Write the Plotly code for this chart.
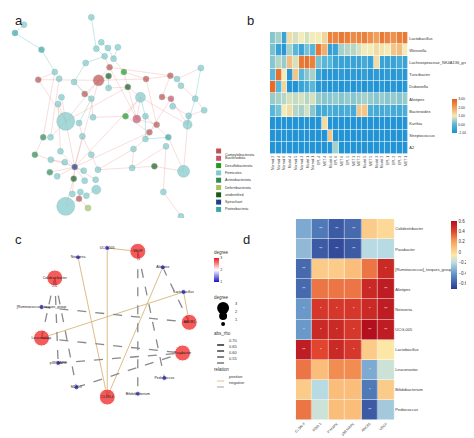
import plotly.graph_objects as go

W, H = 474, 438

# ---------- panel a: co-occurrence network ----------
phyla = ["Campylobacterota", "Bacteroidota", "Desulfobacterota", "Firmicutes",
         "Actinobacteriota", "Deferribacterota", "unidentified", "Spirochaet", "Proteobacteria"]
phylum_colors = ["#c0504d", "#c9516a", "#1f9a1f", "#7fcaca", "#2f8a4f",
                 "#a9c15c", "#1b5a1b", "#1e3f8c", "#3aa6a6"]

a_x = [42, 15, 95, 245, 275, 260, 295, 325, 285, 312, 228, 300, 343, 297, 267, 135, 148, 85, 193, 297,
       355, 410, 483, 503, 575, 515, 393, 458, 485, 558, 490, 585, 538, 535, 155, 225, 245, 145, 168, 208,
       250, 348, 382, 408, 442, 420, 477, 408, 470, 100, 122, 218, 75, 152, 123, 165, 245, 372, 195, 222,
       265, 120, 142, 435, 368, 523, 258, 225, 192, 260, 212, 188, 230, 208, 168, 235, 462, 515]
a_y = [50, 75, 125, 28, 103, 122, 120, 118, 145, 152, 165, 178, 192, 204, 217, 192, 212, 215, 222, 240,
       237, 213, 203, 213, 180, 233, 268, 267, 272, 272, 295, 307, 323, 350, 268, 258, 272, 288, 340, 345,
       328, 325, 333, 325, 350, 373, 388, 393, 415, 388, 388, 385, 440, 430, 455, 463, 440, 423, 477, 488,
       485, 493, 505, 475, 480, 490, 515, 518, 512, 545, 552, 558, 563, 572, 595, 600, 552, 625]
a_phylum = [3, 8, 8, 3, 3, 3, 3, 3, 3, 3, 3, 0, 2, 6, 0, 3, 3, 0, 3, 3,
            6, 0, 0, 3, 3, 3, 3, 0, 1, 3, 3, 3, 3, 3, 3, 0, 3, 3, 3, 3,
            3, 2, 1, 3, 0, 0, 8, 3, 3, 4, 3, 3, 4, 3, 3, 3, 3, 3, 7, 3,
            3, 4, 3, 6, 3, 3, 3, 3, 6, 3, 3, 3, 3, 0, 3, 5, 3, 3]
a_size = [6] * len(a_x)
for i, s in {14: 11, 26: 10, 33: 9, 42: 8, 65: 12, 69: 9, 38: 18, 74: 18}.items():
    a_size[i] = s
a_pos_edges = [(11, 14), (14, 13), (14, 17), (14, 21), (14, 35), (12, 21), (12, 20), (20, 26), (21, 22),
               (22, 23), (22, 27), (27, 28), (28, 30), (25, 29), (29, 31), (31, 32), (32, 33), (33, 28),
               (26, 42), (42, 44), (44, 45), (45, 47), (47, 57), (57, 64), (64, 48), (48, 76), (76, 77),
               (38, 50), (38, 14), (38, 58), (49, 52), (52, 58), (58, 68), (58, 61), (58, 71), (58, 53),
               (54, 55), (55, 58), (58, 66), (68, 74), (73, 74), (69, 72), (70, 73), (35, 36), (36, 40),
               (40, 41), (41, 26), (42, 11), (17, 38), (15, 49), (16, 50), (37, 38), (34, 38), (39, 51),
               (51, 58), (56, 60), (60, 63), (63, 65), (65, 33), (46, 65), (43, 46), (19, 20), (18, 35),
               (26, 33), (30, 32), (44, 21), (23, 25), (24, 23), (12, 9), (11, 8), (20, 42), (41, 45),
               (57, 60), (58, 45), (14, 58), (37, 53), (58, 26), (62, 58), (67, 58), (75, 73), (59, 58),
               (56, 51), (28, 45), (11, 22), (17, 15), (38, 20)]
a_neg_edges = [(0, 1), (1, 2), (2, 15), (3, 5), (4, 6), (5, 8), (6, 9), (7, 9), (8, 10), (10, 18),
               (18, 36), (36, 39), (24, 29), (29, 33), (33, 32), (26, 43), (43, 47), (46, 47), (19, 13)]

# ---------- panel b: heatmap ----------
b_rows = ["Lactobacillus", "Weissella", "Lachnospiraceae_NK4A136_group", "Turicibacter", "Dubosiella",
          "Alistipes", "Bacteroides", "Kurthia", "Streptococcus", "A2"]
b_cols = ["Normal 2", "Normal 4", "Normal 6", "Model 4", "Normal 5", "Normal 3", "Model 1", "Normal 1",
          "EPL 4", "MET 4", "Model 6", "EPL 6", "MET 6", "EPL 5", "MET 3", "MET 2", "Model 5", "MET 5",
          "Model 3", "Model 2", "EPL 1", "EPL 2", "EPL 3", "MET 1"]
b_vals = [
    [0.3, 0.5, -0.5, 1.2, 0.8, 1.0, 0.8, 1.0, 1.0, 1.3, 2.5, 2.4, 2.6, 2.5, 2.3, 2.4, 2.5, 2.2, 2.0, 2.6, 2.4, 2.2, 2.5, 2.6],
    [0.2, -0.5, -0.8, 0.5, 0.0, -0.5, 0.2, 0.0, 2.6, 1.8, -0.6, -0.5, 0.5, 0.6, 0.6, 0.8, 1.0, 1.0, 1.2, 1.1, 1.0, 1.5, 1.6, 1.0],
    [0.3, 0.6, 0.4, 1.6, 0.8, 2.6, 2.7, 2.5, 0.2, 0.0, 0.0, -0.5, -0.5, -0.5, -0.5, -0.5, -0.3, -0.5, 1.2, -0.5, -0.5, -0.5, -0.3, -0.5],
    [0.0, 2.7, 1.0, -0.8, 1.5, 0.0, 0.3, 0.5, -0.5, -0.8, -0.8, -0.8, -0.7, -0.8, -0.7, -0.8, -0.6, -0.8, -0.7, -0.8, -0.7, -0.8, -0.7, -0.8],
    [2.8, 0.0, 1.3, -0.9, -0.9, -0.5, -0.3, 0.0, -0.8, -0.8, -0.9, -0.8, -0.9, -0.8, -0.9, -0.8, -0.9, -0.8, -0.9, -0.8, -0.9, -0.8, -0.9, -0.8],
    [0.4, 0.5, 0.6, 0.8, 0.7, 0.8, 0.6, 0.8, 0.4, 0.3, 0.3, 0.4, 0.3, 0.4, 0.3, 0.4, 0.5, 0.4, 0.3, 0.4, 0.3, 0.4, 0.3, 0.4],
    [0.0, 0.2, 1.0, 1.2, 0.6, 0.5, 0.8, 0.3, -0.3, -0.3, -0.2, -0.3, -0.3, -0.2, -0.3, 1.5, 1.5, -0.2, -0.3, -0.3, -0.2, -0.3, -0.3, -0.2],
    [-0.9, -0.9, -0.9, -0.9, -0.9, -0.9, -0.9, -0.9, -0.9, 1.2, -0.9, -0.9, -0.9, -0.9, -0.9, -0.9, -0.9, -0.9, -0.9, -0.9, -0.9, -0.9, -0.9, -0.9],
    [-0.9, -0.9, -0.9, -0.9, -0.9, -0.9, -0.9, -0.9, -0.9, -0.9, 1.5, -0.9, -0.9, -0.9, -0.9, -0.9, -0.9, -0.9, -0.9, -0.9, -0.9, -0.9, -0.9, -0.9],
    [-0.9, -0.9, -0.9, -0.9, -0.9, -0.9, -0.9, -0.9, -0.9, -0.9, -0.9, 0.5, -0.9, -0.9, -0.9, -0.9, -0.9, -0.9, -0.9, -0.9, -0.9, -0.9, -0.9, -0.9],
]

# ---------- panel c: correlation network ----------
c_names = ["UCG-005", "Neisseria", "VEGF", "Alistipes", "Lactobacillus", "ABCB1", "Parabacter",
           "Pediococcus", "Bifidobacterium", "CLDN-4", "MDR-1", "p38 MAPK", "Leuconostoc",
           "[Ruminococcus]_torques_group", "Colidextribacter"]
c_x = [293, 205, 385, 460, 523, 540, 520, 465, 385, 293, 200, 145, 95, 95, 135]
c_y = [90, 118, 100, 148, 222, 313, 405, 480, 527, 537, 508, 435, 360, 267, 180]
c_degree = [1, 1, 3, 1, 1, 3, 3, 1, 1, 3, 1, 1, 3, 1, 3]
c_edges = [(0, 2, "positive"), (0, 9, "positive"), (1, 9, "positive"), (3, 9, "positive"),
           (3, 5, "negative"), (4, 5, "positive"), (4, 12, "positive"), (2, 7, "negative"),
           (2, 8, "negative"), (14, 12, "negative"), (14, 11, "negative"), (14, 10, "negative"),
           (13, 5, "negative"), (12, 6, "negative"), (11, 6, "negative"), (10, 6, "negative")]

# ---------- panel d: correlation heatmap ----------
d_rows = ["Colidextribacter", "Parabacter", "[Ruminococcus]_torques_group", "Alistipes", "Neisseria",
          "UCG-005", "Lactobacillus", "Leuconostoc", "Bifidobacterium", "Pediococcus"]
d_cols = ["CLDN-4", "MDR-1", "P-MAPK", "p38 MAPK", "ABCB1", "VEGF"]
d_vals = [
    [-0.35, -0.5, -0.6, -0.55, 0.05, 0.0],
    [-0.3, -0.6, -0.65, -0.6, -0.2, -0.2],
    [-0.55, 0.05, 0.05, 0.1, 0.3, 0.5],
    [-0.55, 0.3, 0.3, 0.3, 0.5, 0.55],
    [-0.4, 0.45, 0.45, 0.45, 0.5, 0.55],
    [-0.4, 0.5, 0.5, 0.45, 0.6, 0.55],
    [0.55, 0.4, 0.5, 0.45, 0.05, -0.05],
    [0.3, 0.1, 0.25, 0.25, -0.35, -0.15],
    [0.05, -0.2, 0.1, 0.1, -0.5, 0.05],
    [0.3, -0.15, 0.1, 0.1, -0.6, -0.25],
]
d_stars = [
    ["", "**", "**", "**", "", ""],
    ["", "**", "**", "**", "", ""],
    ["**", "", "", "", "", "*"],
    ["**", "", "", "", "*", "**"],
    ["*", "*", "*", "*", "*", "**"],
    ["*", "*", "*", "*", "**", "**"],
    ["**", "*", "*", "*", "", ""],
    ["", "", "", "", "*", ""],
    ["", "", "", "", "*", ""],
    ["", "", "", "", "**", ""],
]


def px_dom(x0, x1):
    return [x0 / W, x1 / W]


def py_dom(y0, y1):
    return [1 - y1 / H, 1 - y0 / H]


fig = go.Figure()
FONT = "Liberation Sans"

# panel a edges + nodes
for edges, col in [(a_pos_edges, "rgba(240,150,150,0.55)"), (a_neg_edges, "rgba(120,200,200,0.7)")]:
    ex, ey = [], []
    for i, j in edges:
        ex += [a_x[i], a_x[j], None]
        ey += [a_y[i], a_y[j], None]
    fig.add_trace(go.Scatter(x=ex, y=ey, mode="lines", line=dict(color=col, width=0.6),
                             hoverinfo="skip", showlegend=False, xaxis="x", yaxis="y"))
fig.add_trace(go.Scatter(x=a_x, y=a_y, mode="markers", showlegend=False, xaxis="x", yaxis="y",
                         marker=dict(size=a_size, color=[phylum_colors[p] for p in a_phylum],
                                     line=dict(color="#5a9a9a", width=0.4))))

# panel b heatmap
b_scale = [[0, "#1c8fd3"], [0.25, "#58b6d8"], [0.5, "#f3ebb8"], [0.75, "#f0a05a"], [1, "#e25f1c"]]
fig.add_trace(go.Heatmap(z=b_vals, x=b_cols, y=b_rows, xaxis="x2", yaxis="y2", zmin=-1, zmax=3,
                         colorscale=b_scale, xgap=0.6, ygap=0.6,
                         colorbar=dict(x=444 / W, xanchor="left", xpad=0, ypad=0,
                                       y=1 - 108 / H, len=34 / H,
                                       thickness=5, outlinewidth=0, tickvals=[-1, 0, 1, 2, 3],
                                       ticktext=["-1.00", "0.00", "1.00", "2.00", "3.00"],
                                       tickfont=dict(size=3.5, family=FONT))))

# panel c edges + nodes
for rel, col, dash, wd in [("positive", "#d8b47a", "solid", 0.9), ("negative", "#8a8a8a", "dash", 1.3)]:
    ex, ey = [], []
    for i, j, r in c_edges:
        if r == rel:
            ex += [c_x[i], c_x[j], None]
            ey += [c_y[i], c_y[j], None]
    fig.add_trace(go.Scatter(x=ex, y=ey, mode="lines", line=dict(color=col, width=wd, dash=dash),
                             hoverinfo="skip", showlegend=False, xaxis="x3", yaxis="y3"))
fig.add_trace(go.Scatter(x=c_x, y=c_y, mode="markers+text", text=c_names, showlegend=False,
                         textfont=dict(size=3.5, family=FONT, color="#222"),
                         xaxis="x3", yaxis="y3",
                         marker=dict(size=[5 + 5.5 * (d - 1) for d in c_degree], color=c_degree,
                                     cmin=1, cmax=3,
                                     colorscale=[[0, "#1a10c8"], [0.5, "#ffffff"], [1, "#f01818"]],
                                     colorbar=dict(x=205 / W, xanchor="left", xpad=0, ypad=0,
                                                   y=1 - 262 / H,
                                                   len=24 / H, thickness=5, outlinewidth=0,
                                                   tickvals=[1, 2, 3],
                                                   tickfont=dict(size=3.5, family=FONT)))))

# panel d heatmap
d_scale = [[0, "#2b3a91"], [0.2, "#5b8cc4"], [0.4, "#bfe0e6"], [0.5, "#fde7a6"],
           [0.7, "#f7a05a"], [0.85, "#e0432d"], [1, "#b2101f"]]
fig.add_trace(go.Heatmap(z=d_vals, x=d_cols, y=d_rows, text=d_stars, texttemplate="%{text}",
                         textfont=dict(size=4, color="white"), xaxis="x4", yaxis="y4",
                         zmin=-0.7, zmax=0.6, colorscale=d_scale, xgap=0.5, ygap=0.5,
                         colorbar=dict(x=443 / W, xanchor="left", xpad=0, ypad=0,
                                       y=1 - 213 / H, yanchor="top",
                                       len=68 / H, thickness=6, outlinewidth=0,
                                       tickvals=[-0.6, -0.4, -0.2, 0, 0.2, 0.4, 0.6],
                                       ticktext=["−0.6", "−0.4", "−0.2", "0", "0.2", "0.4", "0.6"],
                                       tickfont=dict(size=4.5, family=FONT))))

hidden = dict(visible=False, showgrid=False, zeroline=False)
fig.update_layout(
    width=W, height=H, margin=dict(l=0, r=0, t=0, b=0),
    paper_bgcolor="white", plot_bgcolor="white",
    font=dict(family=FONT, size=5, color="#333"),
    xaxis=dict(domain=px_dom(0, 240), range=[0, 720], **hidden),
    yaxis=dict(domain=py_dom(0, 215), range=[645, 0], **hidden),
    xaxis2=dict(domain=px_dom(261, 400), showgrid=False, tickangle=-90, tickfont=dict(size=3.5),
                ticks="", anchor="y2"),
    yaxis2=dict(domain=py_dom(24, 146), autorange="reversed", side="right", showgrid=False,
                tickfont=dict(size=4), ticks="", anchor="x2"),
    xaxis3=dict(domain=px_dom(0, 237), range=[0, 711], **hidden),
    yaxis3=dict(domain=py_dom(210, 438), range=[684, 0], **hidden),
    xaxis4=dict(domain=px_dom(287, 386), showgrid=False, tickangle=-45, tickfont=dict(size=3.5),
                ticks="", anchor="y4"),
    yaxis4=dict(domain=py_dom(211, 412), autorange="reversed", side="right", showgrid=False,
                tickfont=dict(size=4), ticks="", anchor="x4"),
)

# panel letters
for lab, x, y in [("a", 3, 3), ("b", 236, 3), ("c", 3, 222), ("d", 232, 222)]:
    fig.add_annotation(text=lab, x=x / W, y=1 - y / H, xref="paper", yref="paper", xanchor="left",
                       yanchor="top", showarrow=False, font=dict(size=13, family=FONT, color="#222"))

# panel a legend
for k, (name, col) in enumerate(zip(phyla, phylum_colors)):
    yy = 143 + k * 7.3
    fig.add_shape(type="rect", xref="paper", yref="paper", x0=207 / W, x1=212 / W,
                  y0=1 - (yy + 2.5) / H, y1=1 - (yy - 2.5) / H, fillcolor=col, line_width=0)
    fig.add_annotation(text=name, x=214 / W, y=1 - yy / H, xref="paper", yref="paper",
                       xanchor="left", showarrow=False, font=dict(size=3.6, family=FONT))

# panel c legend
for txt, y in [("degree", 244), ("degree", 289), ("abs_rho", 330), ("relation", 366)]:
    fig.add_annotation(text=txt, x=203 / W, y=1 - y / H, xref="paper", yref="paper",
                       xanchor="left", showarrow=False, font=dict(size=4.5, family=FONT))
for k, (v, sz) in enumerate([(3, 12), (2, 8), (1, 4)]):
    yy = 300 + k * 8
    r = sz / 2
    fig.add_shape(type="circle", xref="paper", yref="paper", x0=(214 - r) / W, x1=(214 + r) / W,
                  y0=1 - (yy + r) / H, y1=1 - (yy - r) / H, fillcolor="black", line_width=0)
    fig.add_annotation(text=str(v), x=224 / W, y=1 - yy / H, xref="paper", yref="paper",
                       xanchor="left", showarrow=False, font=dict(size=4, family=FONT))
for k, (v, wd) in enumerate([("0.70", 1.6), ("0.65", 1.4), ("0.60", 1.2), ("0.55", 1.0)]):
    yy = 337 + k * 6
    fig.add_shape(type="line", xref="paper", yref="paper", x0=208 / W, x1=215 / W,
                  y0=1 - yy / H, y1=1 - yy / H, line=dict(color="#333", width=wd))
    fig.add_annotation(text=v, x=218 / W, y=1 - yy / H, xref="paper", yref="paper",
                       xanchor="left", showarrow=False, font=dict(size=4, family=FONT))
for k, (v, col, dash) in enumerate([("positive", "#d8b47a", "solid"), ("negative", "#8a8a8a", "dash")]):
    yy = 373 + k * 6
    fig.add_shape(type="line", xref="paper", yref="paper", x0=208 / W, x1=215 / W,
                  y0=1 - yy / H, y1=1 - yy / H, line=dict(color=col, width=0.8, dash=dash))
    fig.add_annotation(text=v, x=218 / W, y=1 - yy / H, xref="paper", yref="paper",
                       xanchor="left", showarrow=False, font=dict(size=4, family=FONT))

fig.write_html("out.html")
